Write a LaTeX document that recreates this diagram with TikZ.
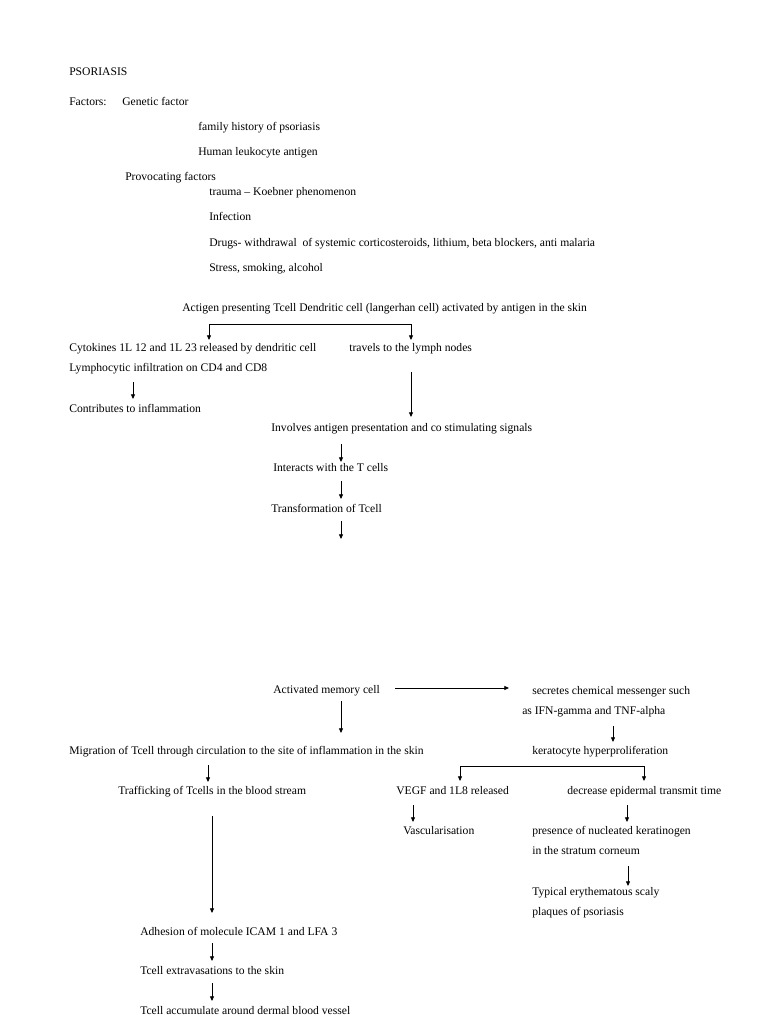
\documentclass[tikz,border=0pt]{standalone}
\usepackage{fontspec}
\setmainfont{Liberation Serif}
\usetikzlibrary{arrows.meta}
\begin{document}
\begin{tikzpicture}[x=0.75pt,y=-0.75pt,
  txt/.style={anchor=base west,inner sep=0pt,font=\fontsize{8.72pt}{10pt}\selectfont},
  arr/.style={draw=black,line width=0.6pt,-{Triangle[length=3.5pt,width=3pt]}},
  ln/.style={draw=black,line width=0.6pt}]
\useasboundingbox[fill=white] (0,0) rectangle (768,1024);
% texts
\node[txt] (title) at (69,75) {PSORIASIS};
\node[txt] (factors) at (69,105) {Factors:};
\node[txt] (genetic) at (122,105) {Genetic factor};
\node[txt] (fam) at (198,130) {family history of psoriasis};
\node[txt] (hla) at (198,155) {Human leukocyte antigen};
\node[txt] (prov) at (125,180) {Provocating factors};
\node[txt] (trauma) at (209,195) {trauma -- Koebner phenomenon};
\node[txt] (inf) at (209,220) {Infection};
\node[txt] (drugs) at (209,246) {Drugs- withdrawal\ \ of systemic corticosteroids, lithium, beta blockers, anti malaria};
\node[txt] (stress) at (209,271) {Stress, smoking, alcohol};
\node[txt] (actigen) at (182,311) {Actigen presenting Tcell Dendritic cell (langerhan cell) activated by antigen in the skin};
\node[txt] (cyto) at (69,351) {Cytokines 1L 12 and 1L 23 released by dendritic cell};
\node[txt] (travels) at (349,351) {travels to the lymph nodes};
\node[txt] (lympho) at (69,371) {Lymphocytic infiltration on CD4 and CD8};
\node[txt] (contrib) at (69,412) {Contributes to inflammation};
\node[txt] (involves) at (271,431) {Involves antigen presentation and co stimulating signals};
\node[txt] (interacts) at (273,471) {Interacts with the T cells};
\node[txt] (transf) at (271,512) {Transformation of Tcell};
\node[txt] (activated) at (273,693) {Activated memory cell};
\node[txt] (secretes) at (532,694) {secretes chemical messenger such};
\node[txt] (ifn) at (522,714) {as IFN-gamma and TNF-alpha};
\node[txt] (migration) at (69,754) {Migration of Tcell through circulation to the site of inflammation in the skin};
\node[txt] (kerato) at (532,754) {keratocyte hyperproliferation};
\node[txt] (traff) at (118,794) {Trafficking of Tcells in the blood stream};
\node[txt] (vegf) at (396,794) {VEGF and 1L8 released};
\node[txt] (decr) at (567,794) {decrease epidermal transmit time};
\node[txt] (vasc) at (403,834) {Vascularisation};
\node[txt] (pres) at (532,834) {presence of nucleated keratinogen};
\node[txt] (strat) at (532,854) {in the stratum corneum};
\node[txt] (typ) at (532,895) {Typical erythematous scaly};
\node[txt] (plaq) at (532,915) {plaques of psoriasis};
\node[txt] (adh) at (140,935) {Adhesion of molecule ICAM 1 and LFA 3};
\node[txt] (extrav) at (140,974) {Tcell extravasations to the skin};
\node[txt] (accum) at (140,1014) {Tcell accumulate around dermal blood vessel};
% connector coordinates
\coordinate (brA) at (310,324);
\coordinate (brAl) at (209,340);
\coordinate (brAr) at (411,340);
\coordinate (c1s) at (133,382); \coordinate (c1e) at (133,399);
\coordinate (c2s) at (411,372); \coordinate (c2e) at (411,417);
\coordinate (c3s) at (341,444); \coordinate (c3e) at (341,462);
\coordinate (c4s) at (341,481); \coordinate (c4e) at (341,499);
\coordinate (c5s) at (341,521); \coordinate (c5e) at (341,539);
\coordinate (h1s) at (395,688); \coordinate (h1e) at (509,688);
\coordinate (c6s) at (341,701); \coordinate (c6e) at (341,733);
\coordinate (c7s) at (613,726); \coordinate (c7e) at (613,742);
\coordinate (c8s) at (208,765); \coordinate (c8e) at (208,782);
\coordinate (brB) at (550,766);
\coordinate (brBl) at (460,781);
\coordinate (brBr) at (644,781);
\coordinate (c9s) at (413,805); \coordinate (c9e) at (413,822);
\coordinate (c10s) at (627,805); \coordinate (c10e) at (627,822);
\coordinate (c11s) at (212,816); \coordinate (c11e) at (212,913);
\coordinate (c12s) at (628,866); \coordinate (c12e) at (628,886);
\coordinate (c13s) at (212,943); \coordinate (c13e) at (212,961);
\coordinate (c14s) at (212,983); \coordinate (c14e) at (212,1001);
% connectors
\draw[arr] (brA) -| (brAl);
\draw[arr] (brA) -| (brAr);
\draw[arr] (c1s) -- (c1e);
\draw[arr] (c2s) -- (c2e);
\draw[arr] (c3s) -- (c3e);
\draw[arr] (c4s) -- (c4e);
\draw[arr] (c5s) -- (c5e);
\draw[arr] (h1s) -- (h1e);
\draw[arr] (c6s) -- (c6e);
\draw[arr] (c7s) -- (c7e);
\draw[arr] (c8s) -- (c8e);
\draw[arr] (brB) -| (brBl);
\draw[arr] (brB) -| (brBr);
\draw[arr] (c9s) -- (c9e);
\draw[arr] (c10s) -- (c10e);
\draw[arr] (c11s) -- (c11e);
\draw[arr] (c12s) -- (c12e);
\draw[arr] (c13s) -- (c13e);
\draw[arr] (c14s) -- (c14e);
\end{tikzpicture}
\end{document}
